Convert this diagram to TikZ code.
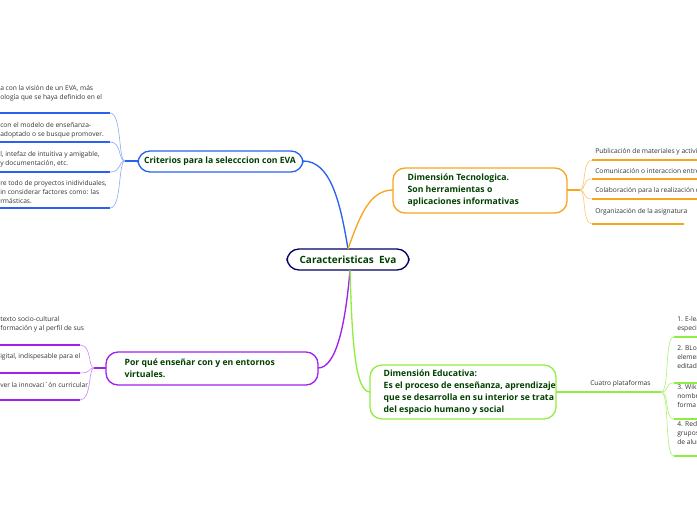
\documentclass[tikz,border=0pt]{standalone}
\usepackage{fontspec}
\setmainfont{Open Sans}
\begin{document}
\begin{tikzpicture}[x=0.75pt,y=-0.75pt,
  tx/.style={font=\fontsize{5}{7}\selectfont,text=black!80,anchor=west,align=left,inner sep=0pt},
  mainb/.style={rounded corners=9pt,line width=1pt,font=\bfseries\fontsize{6.5}{9}\selectfont,text=green!25!black,align=left,inner sep=0pt}]
\definecolor{cblue}{HTML}{2A62F0}
\definecolor{corg}{HTML}{F7A51F}
\definecolor{cpur}{HTML}{A020F0}
\definecolor{cgrn}{HTML}{90EE40}
\useasboundingbox (0,0) rectangle (697,520);
\clip (0,0) rectangle (697,520);
% central
\draw[rounded corners=9pt,line width=1pt,draw=blue!40!black] (287,249) rectangle (409,270);
\node[mainb,font=\bfseries\fontsize{7.5}{9}\selectfont] (c) at (348,259.5) {Caracteristicas\ \ Eva};
\coordinate (ct) at (348,249);
\coordinate (cb) at (350,270);
% criterios
\draw[mainb,draw=cblue] (138,151) rectangle (303,172);
\node[mainb] (cr) at (220,161.5) {Criterios para la selecccion con EVA};
\coordinate (crr) at (303,161);\coordinate (crl) at (138,161);
\draw[cblue,line width=1pt] (ct) .. controls (340,200) and (330,161) .. (crr);
\coordinate (cj) at (125,161);
\draw[cblue,line width=0.8pt] (crl) -- (cj);
\foreach \y in {113,142,172,208}{
 \draw[cblue!50,line width=0.5pt] (cj) .. controls (118,161) and (122,\y) .. (110,\y);
 \draw[cblue,line width=1pt] (110,\y) -- (0,\y);}
\node[tx] (l1) at (0,93) {a con la visión de un EVA, más\\ología que se haya definido en el};
\node[tx] (l2) at (0,130) {con el modelo de enseñanza-\\ adoptado o se busque promover.};
\node[tx] (l3) at (0,159) {l, intefaz de intuitiva y amigable,\\ y documentación, etc.};
\node[tx] (l4) at (0,192) {re todo de proyectos inidividuales,\\in considerar factores como: las\\rmásticas.};
% tecnologica
\draw[mainb,draw=corg] (393,168) rectangle (567,213);
\node[mainb] (te) at (407,190) [anchor=west] {Dimensión Tecnologica.\\Son herramientas o\\aplicaciones informativas};
\coordinate (tel) at (393,190);\coordinate (ter) at (567,190);
\draw[corg,line width=1pt] (ct) .. controls (360,215) and (370,190) .. (tel);
\coordinate (tj) at (580,190);
\draw[corg,line width=0.8pt] (ter) -- (tj);
\foreach \y/\e in {160/697,179/697,199/697,224/684}{
 \draw[corg!60,line width=0.5pt] (tj) .. controls (586,190) and (582,\y) .. (592,\y);
 \draw[corg,line width=1pt] (592,\y) -- (\e,\y);}
\node[tx] (t1) at (595,152) {Publicación de materiales y actividades};
\node[tx] (t2) at (595,171) {Comunicación o interaccion entre los};
\node[tx] (t3) at (595,191) {Colaboración para la realización de t};
\node[tx] (t4) at (595,212) {Organización de la asignatura};
% por que
\draw[mainb,draw=cpur] (106,352) rectangle (318,385);
\node[mainb,anchor=west] (pq) at (124,368.5) {Por qué enseñar con y en entornos\\virtuales.};
\coordinate (pqr) at (318,368);\coordinate (pql) at (106,368);
\draw[cpur,line width=1pt] (cb) .. controls (345,330) and (335,368) .. (pqr);
\coordinate (pj) at (94,368);
\draw[cpur,line width=0.8pt] (pql) -- (pj);
\foreach \y in {345,373,400}{
 \draw[cpur!50,line width=0.5pt] (pj) .. controls (88,368) and (92,\y) .. (80,\y);
 \draw[cpur,line width=1pt] (80,\y) -- (0,\y);}
\node[tx] (p1) at (0,324) {texto socio-cultural\\formación y al perfil de sus};
\node[tx] (p2) at (0,357) {igital, indispesable para el};
\node[tx] (p3) at (0,385) {ver la innovaci´ón curricular};
% educativa
\draw[mainb,draw=cgrn] (370,365) rectangle (556,419);
\node[mainb,anchor=west] (ed) at (383,392) {Dimensión Educativa:\\Es el proceso de enseñanza, aprendizaje\\que se desarrolla en su interior se trata\\del espacio humano y social};
\coordinate (edl) at (370,392);\coordinate (edr) at (556,392);
\draw[cgrn,line width=1pt] (cb) .. controls (352,340) and (355,392) .. (edl);
\coordinate (cpl) at (585,392);\coordinate (cpr) at (661,392);
\draw[cgrn,line width=1pt] (edr) -- (cpl) -- (cpr);
\node[tx] (cp) at (590,384) {Cuatro plataformas};
\foreach \y in {337,383,419,456}{
 \draw[cgrn!70,line width=0.5pt] (cpr) .. controls (670,392) and (664,\y) .. (674,\y);
 \draw[cgrn,line width=1pt] (674,\y) -- (697,\y);}
\node[tx] (e1) at (677,324) {1. E-lea\\especif};
\node[tx] (e2) at (677,357) {2. BLog\\elemen\\editado};
\node[tx] (e3) at (677,396) {3. Wikis\\nombre\\forma};
\node[tx] (e4) at (677,433) {4. Rede\\grupos\\de alum};
\end{tikzpicture}
\end{document}
